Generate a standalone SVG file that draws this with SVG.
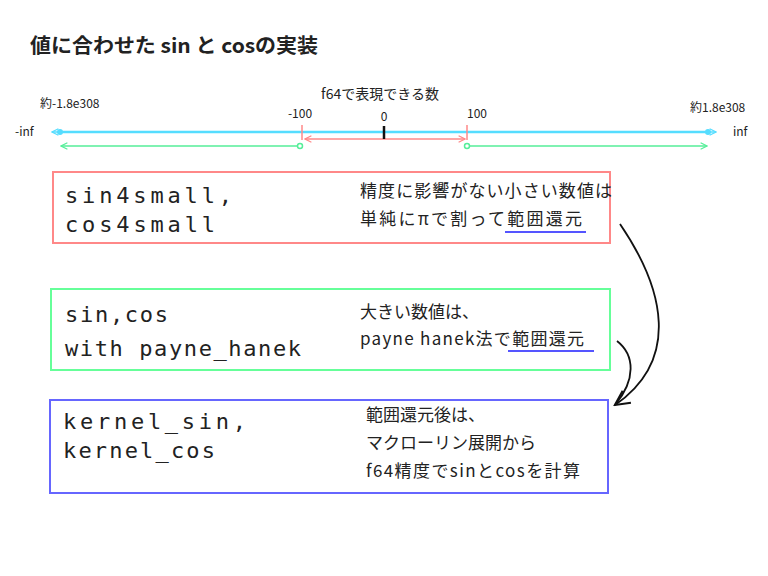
<svg xmlns="http://www.w3.org/2000/svg" width="768" height="576" viewBox="0 0 768 576">
<style>
.jp{font-family:"Noto Sans CJK JP","Noto Sans",sans-serif;fill:#222}
.sm{font-size:12px}
.md{font-size:17px}
.mono{font-family:"DejaVu Sans Mono","Liberation Mono",monospace;font-size:22px;fill:#222}
.box{fill:#fff;stroke-width:2}
</style>
<defs>
<marker id="ac" viewBox="0 0 10 10" refX="9" refY="5" markerWidth="8" markerHeight="8" markerUnits="userSpaceOnUse" orient="auto-start-reverse"><path d="M1,1 L9,5 L1,9" fill="none" stroke="#5df" stroke-width="1.5"/></marker>
<marker id="ag" viewBox="0 0 10 10" refX="9" refY="5" markerWidth="8" markerHeight="8" markerUnits="userSpaceOnUse" orient="auto-start-reverse"><path d="M1,1 L9,5 L1,9" fill="none" stroke="#5e9" stroke-width="1.5"/></marker>
<marker id="ar" viewBox="0 0 10 10" refX="9" refY="5" markerWidth="8" markerHeight="8" markerUnits="userSpaceOnUse" orient="auto-start-reverse"><path d="M1,1 L9,5 L1,9" fill="none" stroke="#f88" stroke-width="1.5"/></marker>
<marker id="ak" viewBox="0 0 10 10" refX="9" refY="5" markerWidth="18" markerHeight="18" markerUnits="userSpaceOnUse" orient="auto"><path d="M1,1 L9,5 L1,9" fill="none" stroke="#111" stroke-width="1.2"/></marker>
</defs>
<text x="30" y="53" class="jp" style="font-size:20px;font-weight:bold" textLength="288" lengthAdjust="spacingAndGlyphs">値に合わせた sin と cosの実装</text>
<g id="numberline">
<text x="380" y="99" class="jp" font-size="14" text-anchor="middle">f64で表現できる数</text>
<text x="40" y="108" class="jp sm">約-1.8e308</text>
<text x="690" y="112" class="jp sm">約1.8e308</text>
<text x="300" y="118" class="jp sm" text-anchor="middle">-100</text>
<text x="384" y="121" class="jp sm" text-anchor="middle">0</text>
<text x="477" y="118" class="jp sm" text-anchor="middle">100</text>
<text x="15" y="136" class="jp sm">-inf</text>
<text x="733" y="136" class="jp sm">inf</text>
<line x1="60" y1="132" x2="52" y2="132" stroke="#5df" stroke-width="1.5" marker-end="url(#ac)"/>
<line x1="708" y1="132" x2="716" y2="132" stroke="#5df" stroke-width="1.5" marker-end="url(#ac)"/>
<line x1="60" y1="132" x2="708" y2="132" stroke="#5df" stroke-width="2.5"/>
<circle cx="60" cy="132" r="3" fill="#5df"/><circle cx="708" cy="132" r="3" fill="#5df"/>
<line x1="302" y1="125" x2="302" y2="140" stroke="#f88" stroke-width="1.5"/>
<line x1="467" y1="125" x2="467" y2="140" stroke="#f88" stroke-width="1.5"/>
<line x1="305" y1="139" x2="465" y2="139" stroke="#f88" stroke-width="1.5" marker-start="url(#ar)" marker-end="url(#ar)"/>
<line x1="384" y1="126" x2="384" y2="139" stroke="#111" stroke-width="2.5"/>
<line x1="298" y1="146" x2="61" y2="146" stroke="#5e9" stroke-width="1.5" marker-end="url(#ag)"/>
<line x1="469" y1="146" x2="707" y2="146" stroke="#5e9" stroke-width="1.5" marker-end="url(#ag)"/>
<circle cx="300" cy="146" r="2.5" fill="#fff" stroke="#5e9" stroke-width="1.5"/>
<circle cx="467" cy="146" r="2.5" fill="#fff" stroke="#5e9" stroke-width="1.5"/>
</g>
<g id="small">
<rect x="53" y="172" width="557" height="71" class="box" stroke="#f88"/>
<text x="65" y="203" class="mono" textLength="167">sin4small,</text>
<text x="65" y="232" class="mono" textLength="150">cos4small</text>
<text x="360" y="197" class="jp md" textLength="252">精度に影響がない小さい数値は</text>
<text x="360" y="225" class="jp md" textLength="222">単純にπで割って範囲還元</text>
<line x1="505" y1="232" x2="586" y2="232" stroke="#55f" stroke-width="2"/>
</g>
<g id="large">
<rect x="51" y="289" width="559" height="81" class="box" stroke="#6f9"/>
<text x="65" y="322" class="mono" textLength="103">sin,cos</text>
<text x="65" y="356" class="mono" textLength="236">with payne_hanek</text>
<text x="360" y="318" class="jp md">大きい数値は、</text>
<text x="360" y="345" class="jp md" textLength="224">payne hanek法で範囲還元</text>
<line x1="508" y1="351" x2="594" y2="351" stroke="#55f" stroke-width="2"/>
</g>
<g id="kernel">
<rect x="50" y="400" width="558" height="93" class="box" stroke="#66f"/>
<text x="63" y="429" class="mono" textLength="183">kernel_sin,</text>
<text x="63" y="458" class="mono" textLength="152">kernel_cos</text>
<text x="366" y="421" class="jp md">範囲還元後は、</text>
<text x="366" y="449" class="jp md">マクローリン展開から</text>
<text x="366" y="477" class="jp md" textLength="214">f64精度でsinとcosを計算</text>
</g>
<g id="connectors" fill="none" stroke="#111" stroke-width="1.8">
<path d="M620,224 C665,290 680,360 615,405" marker-end="url(#ak)"/>
<path d="M617,341 C635,355 636,380 615,405"/>
</g>
</svg>
